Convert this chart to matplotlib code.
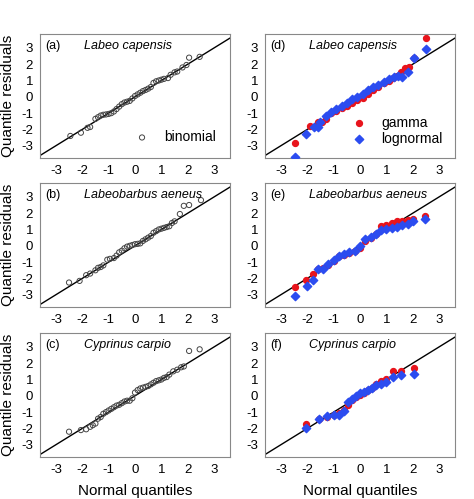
import matplotlib
matplotlib.use("Agg")
import matplotlib.pyplot as plt

plt.rcParams['font.family'] = ['Liberation Sans', 'DejaVu Sans']
plt.rcParams['axes.unicode_minus'] = False

species = ["Labeo capensis", "Labeobarbus aeneus", "Cyprinus carpio"]
labels_left = ["(a)", "(b)", "(c)"]
labels_right = ["(d)", "(e)", "(f)"]

# binomial panels (normal quantile, residual)
a_x = [-2.45,-2.05,-1.8,-1.7,-1.5,-1.4,-1.3,-1.2,-1.1,-1.0,-0.9,-0.8,-0.7,-0.6,-0.5,-0.4,-0.3,-0.2,-0.1,0.0,0.1,0.2,0.3,0.4,0.5,0.6,0.7,0.8,0.9,1.0,1.1,1.25,1.35,1.5,1.6,1.8,1.95,2.05,2.45]
a_y = [-2.4,-2.2,-1.9,-1.85,-1.35,-1.25,-1.15,-1.1,-1.08,-1.05,-1.0,-0.9,-0.75,-0.6,-0.45,-0.35,-0.3,-0.25,-0.1,0.05,0.15,0.25,0.35,0.42,0.5,0.6,0.85,0.95,1.0,1.05,1.1,1.15,1.35,1.5,1.55,1.8,1.95,2.4,2.45]
b_x = [-2.5,-2.1,-1.85,-1.7,-1.5,-1.4,-1.3,-1.2,-1.05,-0.95,-0.8,-0.7,-0.6,-0.5,-0.4,-0.3,-0.2,-0.1,0.0,0.1,0.2,0.3,0.4,0.5,0.6,0.7,0.8,0.9,1.0,1.1,1.2,1.3,1.4,1.5,1.7,1.85,2.05,2.5]
b_y = [-2.25,-2.15,-1.8,-1.7,-1.5,-1.35,-1.3,-1.2,-0.85,-0.8,-0.75,-0.6,-0.4,-0.3,-0.15,-0.05,0.0,0.05,0.1,0.12,0.15,0.3,0.4,0.5,0.6,0.8,0.9,1.0,1.05,1.1,1.15,1.2,1.4,1.5,1.95,2.45,2.5,2.8]
c_x = [-2.5,-2.05,-1.85,-1.7,-1.6,-1.5,-1.4,-1.3,-1.2,-1.1,-1.0,-0.9,-0.8,-0.7,-0.6,-0.5,-0.4,-0.3,-0.2,-0.1,0.0,0.1,0.2,0.3,0.4,0.5,0.6,0.7,0.8,0.9,1.0,1.1,1.2,1.3,1.45,1.6,1.75,1.85,2.05,2.45]
c_y = [-2.2,-2.1,-2.05,-1.9,-1.8,-1.7,-1.4,-1.3,-1.1,-1.0,-0.9,-0.8,-0.7,-0.6,-0.55,-0.45,-0.35,-0.3,-0.3,-0.15,0.2,0.35,0.45,0.5,0.55,0.6,0.7,0.8,0.9,0.95,1.0,1.1,1.15,1.3,1.5,1.6,1.75,1.8,2.75,2.85]

# gamma / lognormal panels
d_gx = [-2.45,-1.9,-1.6,-1.45,-1.3,-1.1,-0.9,-0.7,-0.5,-0.3,-0.1,0.1,0.3,0.5,0.7,0.9,1.1,1.25,1.4,1.55,1.7,1.85,2.05,2.5]
d_gy = [-2.8,-1.8,-1.55,-1.55,-1.35,-1.0,-0.85,-0.7,-0.55,-0.35,-0.2,-0.05,0.2,0.4,0.6,0.85,1.0,1.15,1.3,1.55,1.75,1.8,2.35,3.6]
d_lx = [-2.45,-2.05,-1.75,-1.6,-1.5,-1.3,-1.1,-0.9,-0.7,-0.5,-0.3,-0.1,0.1,0.3,0.5,0.7,0.9,1.1,1.3,1.45,1.6,1.8,2.05,2.5]
d_ly = [-3.7,-2.25,-1.85,-1.85,-1.55,-1.2,-0.9,-0.75,-0.55,-0.35,-0.15,0.0,0.2,0.4,0.6,0.75,0.9,1.1,1.2,1.25,1.2,1.55,2.35,2.95]
e_gx = [-2.45,-2.05,-1.8,-1.6,-1.4,-1.2,-1.0,-0.8,-0.6,-0.4,-0.2,0.0,0.2,0.4,0.6,0.8,1.0,1.2,1.4,1.6,1.8,2.0,2.45]
e_gy = [-2.5,-2.1,-1.75,-1.4,-1.35,-1.15,-0.95,-0.65,-0.55,-0.45,-0.3,-0.15,0.3,0.5,0.7,1.2,1.3,1.4,1.5,1.55,1.6,1.65,1.8]
e_lx = [-2.45,-2.0,-1.8,-1.6,-1.4,-1.2,-1.0,-0.8,-0.6,-0.4,-0.2,0.0,0.2,0.4,0.6,0.8,1.0,1.2,1.4,1.6,1.8,2.0,2.45]
e_ly = [-3.1,-2.45,-2.1,-1.45,-1.4,-1.1,-0.9,-0.65,-0.5,-0.4,-0.3,0.0,0.4,0.55,0.75,0.95,1.05,1.1,1.15,1.25,1.35,1.5,1.65]
f_gx = [-2.05,-1.55,-1.25,-1.0,-0.8,-0.6,-0.45,-0.3,-0.15,0.0,0.15,0.3,0.45,0.6,0.8,1.0,1.25,1.55,2.05]
f_gy = [-1.75,-1.4,-1.3,-1.2,-1.05,-0.85,-0.55,-0.25,-0.1,0.05,0.2,0.35,0.5,0.7,0.9,1.05,1.5,1.55,1.7]
f_lx = [-2.05,-1.55,-1.25,-1.0,-0.8,-0.6,-0.45,-0.3,-0.15,0.0,0.15,0.3,0.45,0.6,0.8,1.0,1.25,1.55,2.05]
f_ly = [-2.0,-1.4,-1.25,-1.2,-1.15,-0.95,-0.4,-0.2,0.0,0.15,0.25,0.35,0.5,0.65,0.75,0.85,1.15,1.25,1.35]

left = [(a_x, a_y), (b_x, b_y), (c_x, c_y)]
right = [((d_gx, d_gy), (d_lx, d_ly)), ((e_gx, e_gy), (e_lx, e_ly)), ((f_gx, f_gy), (f_lx, f_ly))]

W, H = 474, 499
fig = plt.figure(figsize=(W/100, H/100), dpi=100)
tops = [34, 183, 333]
ah = 124
lefts = [40, 265]
aw = 190
ticks = [-3, -2, -1, 0, 1, 2, 3]
red = '#e8141c'
blue = '#2b4cf0'

def setup(ax, lab, sp):
    ax.set_xlim(-3.6, 3.6)
    ax.set_ylim(-3.75, 3.85)
    ax.set_xticks(ticks)
    ax.set_yticks(ticks)
    ax.tick_params(labelsize=9.5, length=0, pad=5)
    for s in ax.spines.values():
        s.set_color('#888888')
    ax.plot([-5, 5], [-5, 5], color='black', lw=1, zorder=1)
    ax.text(0.03, 0.95, lab, transform=ax.transAxes, fontsize=9, va='top')
    ax.text(0.23, 0.95, sp, transform=ax.transAxes, fontsize=9, va='top', style='italic')

for i in range(3):
    b = 1 - (tops[i] + ah) / H
    axl = fig.add_axes([lefts[0]/W, b, aw/W, ah/H])
    setup(axl, labels_left[i], species[i])
    axl.scatter(left[i][0], left[i][1], s=14, facecolors='none', edgecolors='#444444', linewidths=0.7, zorder=2, label='binomial')
    axl.set_ylabel('Quantile residuals', fontsize=11, labelpad=4)
    axr = fig.add_axes([lefts[1]/W, b, aw/W, ah/H])
    setup(axr, labels_right[i], species[i])
    (gx, gy), (lx, ly) = right[i]
    axr.scatter(gx, gy, s=18, color=red, zorder=2, label='gamma')
    axr.scatter(lx, ly, s=18, marker='D', color=blue, zorder=3, label='lognormal')
    if i == 0:
        axl.legend(loc='lower right', frameon=False, fontsize=10, handletextpad=0.6, borderaxespad=0.6)
        axr.legend(loc='lower right', frameon=False, fontsize=10, handletextpad=0.6, labelspacing=0.1)
    if i == 2:
        axl.set_xlabel('Normal quantiles', fontsize=11, labelpad=6)
        axr.set_xlabel('Normal quantiles', fontsize=11, labelpad=6)

fig.savefig('out.png', dpi=100)
